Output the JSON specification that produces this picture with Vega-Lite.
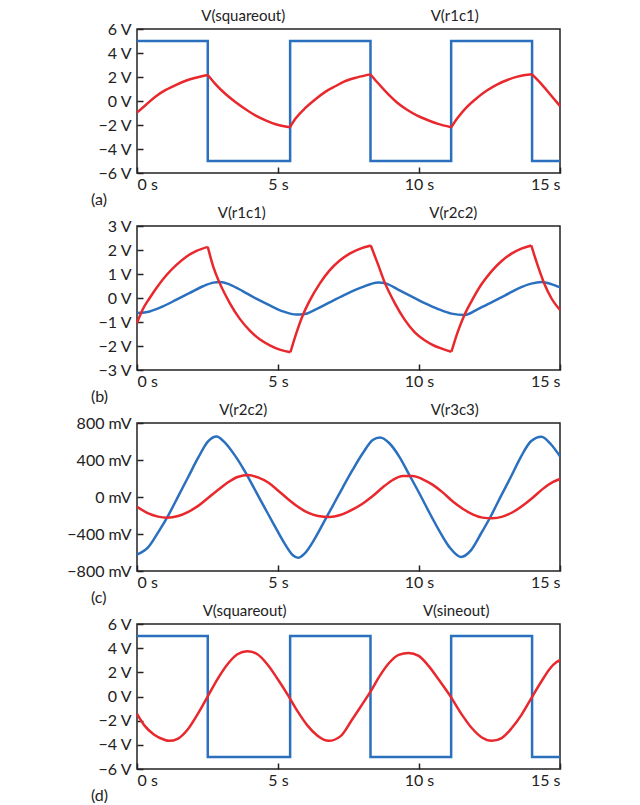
{
  "$schema": "https://vega.github.io/schema/vega-lite/v6.json",
  "background": "white",
  "padding": {"left": 66, "top": 7, "right": 5, "bottom": 0},
  "bounds": "flush",
  "spacing": 53,
  "config": {
    "view": {"stroke": "#222222", "strokeWidth": 1.5},
    "font": "Lato",
    "axis": {"labelFont": "Lato", "labelFontSize": 16, "labelColor": "#222222", "grid": false, "domain": false, "tickColor": "#222222", "tickSize": -6, "tickWidth": 1.5, "labelOverlap": false},
    "axisY": {"labelOverlap": false},
    "title": {"font": "Lato", "fontSize": 16, "fontWeight": "normal", "color": "#222222"},
    "line": {"strokeWidth": 2.5}
  },
  "datasets": {
    "squareout": [
      {"t": 0, "v": 5}, {"t": 2.51, "v": -5}, {"t": 5.43, "v": 5}, {"t": 8.28, "v": -5},
      {"t": 11.14, "v": 5}, {"t": 14.01, "v": -5}, {"t": 15, "v": -5}
    ],
    "r1c1_a": [
      {"seg": 1, "t": 0, "v": -0.97}, {"seg": 1, "t": 0.31, "v": -0.33}, {"seg": 1, "t": 0.65, "v": 0.36}, {"seg": 1, "t": 1.02, "v": 0.92},
      {"seg": 1, "t": 1.37, "v": 1.33}, {"seg": 1, "t": 1.73, "v": 1.69}, {"seg": 1, "t": 2.08, "v": 1.94}, {"seg": 1, "t": 2.51, "v": 2.17},
      {"seg": 2, "t": 2.51, "v": 2.17}, {"seg": 2, "t": 2.79, "v": 1.39}, {"seg": 2, "t": 3.14, "v": 0.58}, {"seg": 2, "t": 3.5, "v": -0.11},
      {"seg": 2, "t": 3.85, "v": -0.69}, {"seg": 2, "t": 4.21, "v": -1.22}, {"seg": 2, "t": 4.56, "v": -1.61}, {"seg": 2, "t": 4.92, "v": -1.94},
      {"seg": 2, "t": 5.42, "v": -2.19},
      {"seg": 3, "t": 5.42, "v": -2.19}, {"seg": 3, "t": 5.63, "v": -1.44}, {"seg": 3, "t": 5.98, "v": -0.56}, {"seg": 3, "t": 6.34, "v": 0.17},
      {"seg": 3, "t": 6.69, "v": 0.78}, {"seg": 3, "t": 7.05, "v": 1.25}, {"seg": 3, "t": 7.34, "v": 1.61}, {"seg": 3, "t": 7.81, "v": 1.97},
      {"seg": 3, "t": 8.28, "v": 2.22},
      {"seg": 4, "t": 8.28, "v": 2.22}, {"seg": 4, "t": 8.52, "v": 1.56}, {"seg": 4, "t": 8.88, "v": 0.64}, {"seg": 4, "t": 9.23, "v": -0.14},
      {"seg": 4, "t": 9.59, "v": -0.75}, {"seg": 4, "t": 9.94, "v": -1.22}, {"seg": 4, "t": 10.3, "v": -1.58}, {"seg": 4, "t": 10.65, "v": -1.89},
      {"seg": 4, "t": 11.14, "v": -2.19},
      {"seg": 5, "t": 11.14, "v": -2.19}, {"seg": 5, "t": 11.36, "v": -1.44}, {"seg": 5, "t": 11.71, "v": -0.47}, {"seg": 5, "t": 12.07, "v": 0.28},
      {"seg": 5, "t": 12.42, "v": 0.89}, {"seg": 5, "t": 12.78, "v": 1.39}, {"seg": 5, "t": 13.13, "v": 1.75}, {"seg": 5, "t": 13.49, "v": 2.03},
      {"seg": 5, "t": 14.01, "v": 2.22},
      {"seg": 6, "t": 14.01, "v": 2.22}, {"seg": 6, "t": 14.32, "v": 1.47}, {"seg": 6, "t": 14.67, "v": 0.5}, {"seg": 6, "t": 15, "v": -0.42}
    ],
    "r1c1_b": [
      {"seg": 1, "t": 0, "v": -1.04}, {"seg": 1, "t": 0.21, "v": -0.46}, {"seg": 1, "t": 0.45, "v": 0}, {"seg": 1, "t": 0.69, "v": 0.42},
      {"seg": 1, "t": 1.04, "v": 0.95}, {"seg": 1, "t": 1.4, "v": 1.38}, {"seg": 1, "t": 1.75, "v": 1.72}, {"seg": 1, "t": 2.11, "v": 1.96},
      {"seg": 1, "t": 2.51, "v": 2.13},
      {"seg": 2, "t": 2.51, "v": 2.13}, {"seg": 2, "t": 2.7, "v": 1.32}, {"seg": 2, "t": 2.93, "v": 0.63}, {"seg": 2, "t": 3.29, "v": -0.21},
      {"seg": 2, "t": 3.64, "v": -0.86}, {"seg": 2, "t": 4.0, "v": -1.36}, {"seg": 2, "t": 4.35, "v": -1.72}, {"seg": 2, "t": 4.71, "v": -1.97},
      {"seg": 2, "t": 5.06, "v": -2.15}, {"seg": 2, "t": 5.44, "v": -2.26},
      {"seg": 3, "t": 5.44, "v": -2.26}, {"seg": 3, "t": 5.65, "v": -1.46}, {"seg": 3, "t": 5.89, "v": -0.69}, {"seg": 3, "t": 6.12, "v": -0.12},
      {"seg": 3, "t": 6.48, "v": 0.6}, {"seg": 3, "t": 6.83, "v": 1.15}, {"seg": 3, "t": 7.19, "v": 1.56}, {"seg": 3, "t": 7.54, "v": 1.85},
      {"seg": 3, "t": 7.9, "v": 2.05}, {"seg": 3, "t": 8.29, "v": 2.19},
      {"seg": 4, "t": 8.29, "v": 2.19}, {"seg": 4, "t": 8.55, "v": 1.39}, {"seg": 4, "t": 8.79, "v": 0.63}, {"seg": 4, "t": 9.14, "v": -0.21},
      {"seg": 4, "t": 9.49, "v": -0.9}, {"seg": 4, "t": 9.85, "v": -1.43}, {"seg": 4, "t": 10.2, "v": -1.76}, {"seg": 4, "t": 10.56, "v": -2.0},
      {"seg": 4, "t": 10.91, "v": -2.15}, {"seg": 4, "t": 11.15, "v": -2.24},
      {"seg": 5, "t": 11.15, "v": -2.24}, {"seg": 5, "t": 11.38, "v": -1.39}, {"seg": 5, "t": 11.62, "v": -0.69}, {"seg": 5, "t": 11.86, "v": -0.14},
      {"seg": 5, "t": 12.21, "v": 0.56}, {"seg": 5, "t": 12.57, "v": 1.11}, {"seg": 5, "t": 12.92, "v": 1.53}, {"seg": 5, "t": 13.28, "v": 1.85},
      {"seg": 5, "t": 13.63, "v": 2.06}, {"seg": 5, "t": 13.98, "v": 2.19},
      {"seg": 6, "t": 13.98, "v": 2.19}, {"seg": 6, "t": 14.22, "v": 1.32}, {"seg": 6, "t": 14.46, "v": 0.55}, {"seg": 6, "t": 14.69, "v": 0.0},
      {"seg": 6, "t": 15, "v": -0.5}
    ],
    "r2c2_b": [
      {"t": 0, "v": -0.63}, {"t": 0.45, "v": -0.56}, {"t": 0.92, "v": -0.35}, {"t": 1.4, "v": -0.07},
      {"t": 1.87, "v": 0.21}, {"t": 2.34, "v": 0.49}, {"t": 2.7, "v": 0.64}, {"t": 2.96, "v": 0.67},
      {"t": 3.29, "v": 0.56}, {"t": 3.76, "v": 0.28}, {"t": 4.23, "v": -0.03}, {"t": 4.71, "v": -0.31},
      {"t": 5.18, "v": -0.56}, {"t": 5.65, "v": -0.69}, {"t": 5.89, "v": -0.68}, {"t": 6.36, "v": -0.46},
      {"t": 6.83, "v": -0.18}, {"t": 7.31, "v": 0.1}, {"t": 7.96, "v": 0.44}, {"t": 8.55, "v": 0.65},
      {"t": 8.84, "v": 0.6}, {"t": 9.26, "v": 0.35}, {"t": 9.73, "v": 0.07}, {"t": 10.2, "v": -0.21},
      {"t": 10.68, "v": -0.46}, {"t": 11.15, "v": -0.65}, {"t": 11.62, "v": -0.71}, {"t": 12.09, "v": -0.46},
      {"t": 12.57, "v": -0.18}, {"t": 13.04, "v": 0.1}, {"t": 13.51, "v": 0.39}, {"t": 13.98, "v": 0.6},
      {"t": 14.34, "v": 0.67}, {"t": 14.69, "v": 0.58}, {"t": 15, "v": 0.44}
    ],
    "r2c2_c": [
      {"t": 0, "v": -623}, {"t": 0.4, "v": -542}, {"t": 0.75, "v": -382}, {"t": 1.11, "v": -198},
      {"t": 1.46, "v": 7}, {"t": 1.82, "v": 219}, {"t": 2.17, "v": 425}, {"t": 2.52, "v": 602},
      {"t": 2.82, "v": 655}, {"t": 3.11, "v": 591}, {"t": 3.47, "v": 450}, {"t": 3.82, "v": 280},
      {"t": 4.17, "v": 85}, {"t": 4.53, "v": -117}, {"t": 4.88, "v": -312}, {"t": 5.24, "v": -506},
      {"t": 5.53, "v": -630}, {"t": 5.71, "v": -658}, {"t": 5.94, "v": -612}, {"t": 6.3, "v": -453},
      {"t": 6.65, "v": -258}, {"t": 7.01, "v": -57}, {"t": 7.3, "v": 105}, {"t": 7.65, "v": 295},
      {"t": 8.01, "v": 475}, {"t": 8.36, "v": 616}, {"t": 8.62, "v": 644}, {"t": 8.95, "v": 581},
      {"t": 9.31, "v": 432}, {"t": 9.66, "v": 237}, {"t": 10.02, "v": 35}, {"t": 10.37, "v": -170},
      {"t": 10.72, "v": -365}, {"t": 11.08, "v": -542}, {"t": 11.49, "v": -648}, {"t": 11.84, "v": -577},
      {"t": 12.19, "v": -400}, {"t": 12.55, "v": -205}, {"t": 12.9, "v": 7}, {"t": 13.26, "v": 219},
      {"t": 13.61, "v": 432}, {"t": 13.97, "v": 602}, {"t": 14.34, "v": 651}, {"t": 14.67, "v": 573},
      {"t": 15, "v": 439}
    ],
    "r3c3": [
      {"t": 0, "v": -106}, {"t": 0.4, "v": -177}, {"t": 0.75, "v": -212}, {"t": 1.05, "v": -223},
      {"t": 1.46, "v": -205}, {"t": 1.82, "v": -160}, {"t": 2.17, "v": -96}, {"t": 2.52, "v": -11},
      {"t": 2.88, "v": 78}, {"t": 3.23, "v": 160}, {"t": 3.59, "v": 219}, {"t": 3.94, "v": 237},
      {"t": 4.29, "v": 212}, {"t": 4.65, "v": 156}, {"t": 5.0, "v": 71}, {"t": 5.35, "v": -21},
      {"t": 5.71, "v": -106}, {"t": 6.06, "v": -170}, {"t": 6.42, "v": -205}, {"t": 6.83, "v": -216},
      {"t": 7.18, "v": -198}, {"t": 7.48, "v": -160}, {"t": 8.01, "v": -70}, {"t": 8.36, "v": 10},
      {"t": 8.72, "v": 106}, {"t": 9.07, "v": 184}, {"t": 9.42, "v": 227}, {"t": 9.78, "v": 227},
      {"t": 10.13, "v": 191}, {"t": 10.49, "v": 131}, {"t": 10.84, "v": 50}, {"t": 11.19, "v": -46},
      {"t": 11.55, "v": -127}, {"t": 11.9, "v": -188}, {"t": 12.25, "v": -223}, {"t": 12.61, "v": -230},
      {"t": 12.96, "v": -212}, {"t": 13.32, "v": -165}, {"t": 13.67, "v": -95}, {"t": 14.03, "v": -8},
      {"t": 14.38, "v": 85}, {"t": 14.74, "v": 160}, {"t": 15, "v": 195}
    ],
    "sineout": [
      {"t": 0, "v": -1.44}, {"t": 0.26, "v": -2.39}, {"t": 0.61, "v": -3.17}, {"t": 0.97, "v": -3.58},
      {"t": 1.14, "v": -3.67}, {"t": 1.44, "v": -3.5}, {"t": 1.79, "v": -2.75}, {"t": 2.14, "v": -1.5},
      {"t": 2.5, "v": -0.03}, {"t": 2.85, "v": 1.42}, {"t": 3.21, "v": 2.67}, {"t": 3.56, "v": 3.5},
      {"t": 3.91, "v": 3.75}, {"t": 4.27, "v": 3.5}, {"t": 4.62, "v": 2.67}, {"t": 4.98, "v": 1.47},
      {"t": 5.33, "v": 0.2}, {"t": 5.68, "v": -1.17}, {"t": 6.04, "v": -2.39}, {"t": 6.39, "v": -3.22},
      {"t": 6.8, "v": -3.67}, {"t": 7.21, "v": -3.3}, {"t": 7.63, "v": -1.9}, {"t": 7.98, "v": -0.67},
      {"t": 8.28, "v": 0.4}, {"t": 8.57, "v": 1.56}, {"t": 8.93, "v": 2.75}, {"t": 9.28, "v": 3.44},
      {"t": 9.63, "v": 3.61}, {"t": 9.99, "v": 3.36}, {"t": 10.34, "v": 2.53}, {"t": 10.69, "v": 1.42},
      {"t": 11.11, "v": 0.03}, {"t": 11.52, "v": -1.5}, {"t": 11.87, "v": -2.61}, {"t": 12.23, "v": -3.39},
      {"t": 12.58, "v": -3.67}, {"t": 12.93, "v": -3.44}, {"t": 13.29, "v": -2.61}, {"t": 13.64, "v": -1.5},
      {"t": 13.99, "v": -0.11}, {"t": 14.35, "v": 1.28}, {"t": 14.64, "v": 2.3}, {"t": 14.88, "v": 2.85},
      {"t": 15, "v": 3.0}
    ]
  },
  "vconcat": [
    {
      "width": 423, "height": 144,
      "title": {"text": "(a)", "orient": "bottom", "anchor": "start", "frame": "group", "dx": -46, "offset": 0},
      "layer": [
        {
          "data": {"name": "squareout"},
          "mark": {"type": "line", "interpolate": "step-after", "color": "#2b70bf", "strokeWidth": 2.5},
          "encoding": {
            "x": {"field": "t", "type": "quantitative", "scale": {"domain": [0, 15], "nice": false, "zero": false},
                  "axis": {"orient": "bottom", "title": null, "values": [0, 5, 10, 15], "labelExpr": "datum.value + ' s'", "labelFlush": true, "labelPadding": 9, "labelOverlap": false}},
            "y": {"field": "v", "type": "quantitative", "scale": {"domain": [-6, 6], "nice": false},
                  "axis": {"title": null, "values": [-6, -4, -2, 0, 2, 4, 6], "labelExpr": "format(datum.value, 'd') + ' V'", "labelPadding": 12, "labelOverlap": false}}
          }
        },
        {
          "data": {"name": "r1c1_a"},
          "mark": {"type": "line", "interpolate": "monotone", "color": "#e8282d", "strokeWidth": 2.5},
          "encoding": {
            "x": {"field": "t", "type": "quantitative",
                  "axis": {"orient": "top", "title": null, "values": [3.75, 11.25], "ticks": false, "tickSize": 0, "labelPadding": 6, "labelFontSize": 15, "labelOverlap": false, "labelExpr": "datum.value < 7 ? 'V(squareout)' : 'V(r1c1)'"}},
            "y": {"field": "v", "type": "quantitative",
                  "axis": {"title": null, "values": [-6, -4, -2, 0, 2, 4, 6], "labelExpr": "format(datum.value, 'd') + ' V'", "labelPadding": 12, "labelOverlap": false}},
            "detail": {"field": "seg", "type": "nominal"}
          }
        }
      ],
      "resolve": {"axis": {"x": "independent"}}
    },
    {
      "width": 423, "height": 144,
      "title": {"text": "(b)", "orient": "bottom", "anchor": "start", "frame": "group", "dx": -46, "offset": 0},
      "layer": [
        {
          "data": {"name": "r2c2_b"},
          "mark": {"type": "line", "interpolate": "monotone", "color": "#2b70bf", "strokeWidth": 2.5},
          "encoding": {
            "x": {"field": "t", "type": "quantitative", "scale": {"domain": [0, 15], "nice": false, "zero": false},
                  "axis": {"orient": "bottom", "title": null, "values": [0, 5, 10, 15], "labelExpr": "datum.value + ' s'", "labelFlush": true, "labelPadding": 9, "labelOverlap": false}},
            "y": {"field": "v", "type": "quantitative", "scale": {"domain": [-3, 3], "nice": false},
                  "axis": {"title": null, "values": [-3, -2, -1, 0, 1, 2, 3], "labelExpr": "format(datum.value, 'd') + ' V'", "labelPadding": 12, "labelOverlap": false}}
          }
        },
        {
          "data": {"name": "r1c1_b"},
          "mark": {"type": "line", "interpolate": "monotone", "color": "#e8282d", "strokeWidth": 2.5},
          "encoding": {
            "x": {"field": "t", "type": "quantitative",
                  "axis": {"orient": "top", "title": null, "values": [3.7, 11.2], "ticks": false, "tickSize": 0, "labelPadding": 6, "labelFontSize": 15, "labelOverlap": false, "labelExpr": "datum.value < 7 ? 'V(r1c1)' : 'V(r2c2)'"}},
            "y": {"field": "v", "type": "quantitative",
                  "axis": {"title": null, "values": [-3, -2, -1, 0, 1, 2, 3], "labelExpr": "format(datum.value, 'd') + ' V'", "labelPadding": 12, "labelOverlap": false}},
            "detail": {"field": "seg", "type": "nominal"}
          }
        }
      ],
      "resolve": {"axis": {"x": "independent"}}
    },
    {
      "width": 423, "height": 148,
      "title": {"text": "(c)", "orient": "bottom", "anchor": "start", "frame": "group", "dx": -46, "offset": 0},
      "layer": [
        {
          "data": {"name": "r2c2_c"},
          "mark": {"type": "line", "interpolate": "monotone", "color": "#2b70bf", "strokeWidth": 2.5},
          "encoding": {
            "x": {"field": "t", "type": "quantitative", "scale": {"domain": [0, 15], "nice": false, "zero": false},
                  "axis": {"orient": "bottom", "title": null, "values": [0, 5, 10, 15], "labelExpr": "datum.value + ' s'", "labelFlush": true, "labelPadding": 9, "labelOverlap": false}},
            "y": {"field": "v", "type": "quantitative", "scale": {"domain": [-800, 800], "nice": false},
                  "axis": {"title": null, "values": [-800, -400, 0, 400, 800], "labelExpr": "format(datum.value, 'd') + ' mV'", "labelPadding": 12, "labelOverlap": false}}
          }
        },
        {
          "data": {"name": "r3c3"},
          "mark": {"type": "line", "interpolate": "monotone", "color": "#e8282d", "strokeWidth": 2.5},
          "encoding": {
            "x": {"field": "t", "type": "quantitative",
                  "axis": {"orient": "top", "title": null, "values": [3.75, 11.25], "ticks": false, "tickSize": 0, "labelPadding": 6, "labelFontSize": 15, "labelOverlap": false, "labelExpr": "datum.value < 7 ? 'V(r2c2)' : 'V(r3c3)'"}},
            "y": {"field": "v", "type": "quantitative",
                  "axis": {"title": null, "values": [-800, -400, 0, 400, 800], "labelExpr": "format(datum.value, 'd') + ' mV'", "labelPadding": 12, "labelOverlap": false}}
          }
        }
      ],
      "resolve": {"axis": {"x": "independent"}}
    },
    {
      "width": 423, "height": 145,
      "title": {"text": "(d)", "orient": "bottom", "anchor": "start", "frame": "group", "dx": -46, "offset": 0},
      "layer": [
        {
          "data": {"name": "squareout"},
          "mark": {"type": "line", "interpolate": "step-after", "color": "#2b70bf", "strokeWidth": 2.5},
          "encoding": {
            "x": {"field": "t", "type": "quantitative", "scale": {"domain": [0, 15], "nice": false, "zero": false},
                  "axis": {"orient": "bottom", "title": null, "values": [0, 5, 10, 15], "labelExpr": "datum.value + ' s'", "labelFlush": true, "labelPadding": 9, "labelOverlap": false}},
            "y": {"field": "v", "type": "quantitative", "scale": {"domain": [-6, 6], "nice": false},
                  "axis": {"title": null, "values": [-6, -4, -2, 0, 2, 4, 6], "labelExpr": "format(datum.value, 'd') + ' V'", "labelPadding": 12, "labelOverlap": false}}
          }
        },
        {
          "data": {"name": "sineout"},
          "mark": {"type": "line", "interpolate": "monotone", "color": "#e8282d", "strokeWidth": 2.5},
          "encoding": {
            "x": {"field": "t", "type": "quantitative",
                  "axis": {"orient": "top", "title": null, "values": [3.8, 11.3], "ticks": false, "tickSize": 0, "labelPadding": 6, "labelFontSize": 15, "labelOverlap": false, "labelExpr": "datum.value < 7 ? 'V(squareout)' : 'V(sineout)'"}},
            "y": {"field": "v", "type": "quantitative",
                  "axis": {"title": null, "values": [-6, -4, -2, 0, 2, 4, 6], "labelExpr": "format(datum.value, 'd') + ' V'", "labelPadding": 12, "labelOverlap": false}}
          }
        }
      ],
      "resolve": {"axis": {"x": "independent"}}
    }
  ]
}
